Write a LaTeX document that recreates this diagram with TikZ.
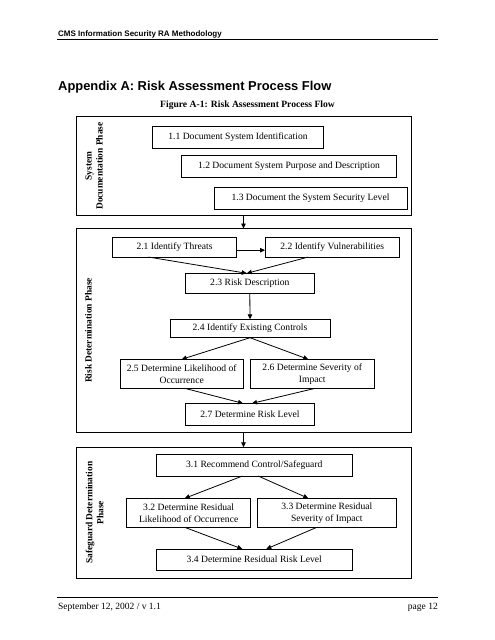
\documentclass[tikz,border=0pt]{standalone}
\usepackage{fontspec}
\setmainfont{Liberation Serif}
\setsansfont{Liberation Sans}
\usetikzlibrary{arrows.meta}

\begin{document}
\begin{tikzpicture}[x=1pt, y=-1pt,
		StepStyle/.style={draw, line width=0.8pt, minimum height=22pt, inner sep=1pt, outer sep=0pt, align=center, font=\fontsize{9.6}{12}\selectfont},
		PhaseStyle/.style={draw, line width=0.9pt, minimum width=335pt, outer sep=0pt},
		LabelStyle/.style={rotate=90, align=center, font=\fontsize{9.4}{11}\selectfont\bfseries}]
	\useasboundingbox (0,0) rectangle (495,640);
	% page header and footer
	\node [anchor=west, inner sep=0pt, font=\fontsize{8}{9}\selectfont\sffamily\bfseries] (head) at (58,34) {CMS Information Security RA Methodology};
	\draw [line width=0.9pt] (57,39.5) -- (438,39.5);
	\node [anchor=west, inner sep=0pt, font=\fontsize{12.9}{14}\selectfont\sffamily\bfseries] (title) at (58,87) {Appendix A: Risk Assessment Process Flow};
	\node [inner sep=0pt, font=\fontsize{9.6}{11}\selectfont\bfseries] (caption) at (247.5,105) {Figure A-1: Risk Assessment Process Flow};
	\draw [line width=0.9pt] (57,597.5) -- (438,597.5);
	\node [anchor=west, inner sep=0pt, font=\fontsize{9.5}{11}\selectfont] (date) at (58,607) {September 12, 2002 / v 1.1};
	\node [anchor=east, inner sep=0pt, font=\fontsize{9.5}{11}\selectfont] (page) at (438,607) {page 12};
	% phases
	\node [PhaseStyle, minimum height=98.5pt] (ph1) at (243.5,165.75) {};
	\node [PhaseStyle, minimum height=204pt] (ph2) at (243.5,330.5) {};
	\node [PhaseStyle, minimum height=131pt] (ph3) at (243.5,512.8) {};
	\node [LabelStyle] (lab1) at (94,166) {System\\Documentation Phase};
	\node [LabelStyle] (lab2) at (88.5,330.5) {Risk Determination Phase};
	\node [LabelStyle] (lab3) at (94.7,512.7) {Safeguard Determination\\Phase};
	% steps
	\node [StepStyle, minimum width=171pt] (t11) at (238,137) {1.1 Document System Identification};
	\node [StepStyle, minimum width=215pt] (t12) at (289,166) {1.2 Document System Purpose and Description};
	\node [StepStyle, minimum width=193pt] (t13) at (310.5,198.5) {1.3 Document the System Security Level};
	\node [StepStyle, minimum width=124.4pt, minimum height=19.7pt] (t21) at (174.5,247.2) {2.1 Identify Threats};
	\node [StepStyle, minimum width=134.3pt, minimum height=19.7pt] (t22) at (332.2,247.2) {2.2 Identify Vulnerabilities};
	\node [StepStyle, minimum width=129pt, minimum height=20pt] (t23) at (249.8,283.3) {2.3 Risk Description};
	\node [StepStyle, minimum width=160pt, minimum height=18.4pt] (t24) at (250,328.5) {2.4 Identify Existing Controls};
	\node [StepStyle, minimum width=123.3pt, minimum height=29pt] (t25) at (181.7,373.8) {2.5 Determine Likelihood of\\Occurrence};
	\node [StepStyle, minimum width=124pt, minimum height=29pt] (t26) at (312.3,373.8) {2.6 Determine Severity of\\Impact};
	\node [StepStyle, minimum width=129.4pt, minimum height=21.7pt] (t27) at (250,414.2) {2.7 Determine Risk Level};
	\node [StepStyle, minimum width=196.7pt, minimum height=21.7pt] (t31) at (254.3,465.2) {3.1 Recommend Control/Safeguard};
	\node [StepStyle, minimum width=124pt, minimum height=29pt] (t32) at (188.7,512.8) {3.2 Determine Residual\\Likelihood of Occurrence};
	\node [StepStyle, minimum width=138.3pt, minimum height=29pt] (t33) at (326.8,512.8) {3.3 Determine Residual\\Severity of Impact};
	\node [StepStyle, minimum width=196.7pt, minimum height=21pt] (t34) at (254.3,559.5) {3.4 Determine Residual Risk Level};
	\begin{scope}[line width=0.8pt, -{Triangle[length=5pt, width=4.5pt]}]
		\draw (ph1.south) -- (ph2.north);
		\draw (ph2.south) -- (ph3.north);
		\draw ([yshift=-3pt]t21.east) -- ([yshift=-3pt]t22.west);
		\draw ([xshift=-26pt]t21.south) -- ([xshift=-3pt]t23.north);
		\draw ([xshift=-24pt]t22.south) -- ([xshift=-3pt]t23.north);
		\draw (t23.south) -- (t24.north);
		\draw (t24.south) -- (t25.north);
		\draw (t24.south) -- ([xshift=-4pt]t26.north);
		\draw ([xshift=3pt]t25.south) -- ([xshift=-7pt]t27.north);
		\draw ([xshift=3pt]t26.south) -- ([xshift=2pt]t27.north);
		\draw ([xshift=-12pt]t31.south) -- ([xshift=-4pt]t32.north);
		\draw ([xshift=4pt]t31.south) -- ([xshift=-18.5pt]t33.north);
		\draw ([xshift=-4pt]t32.south) -- ([xshift=-12pt]t34.north);
		\draw ([xshift=-10pt]t33.south) -- ([xshift=12pt]t34.north);
	\end{scope}
\end{tikzpicture}
\end{document}
